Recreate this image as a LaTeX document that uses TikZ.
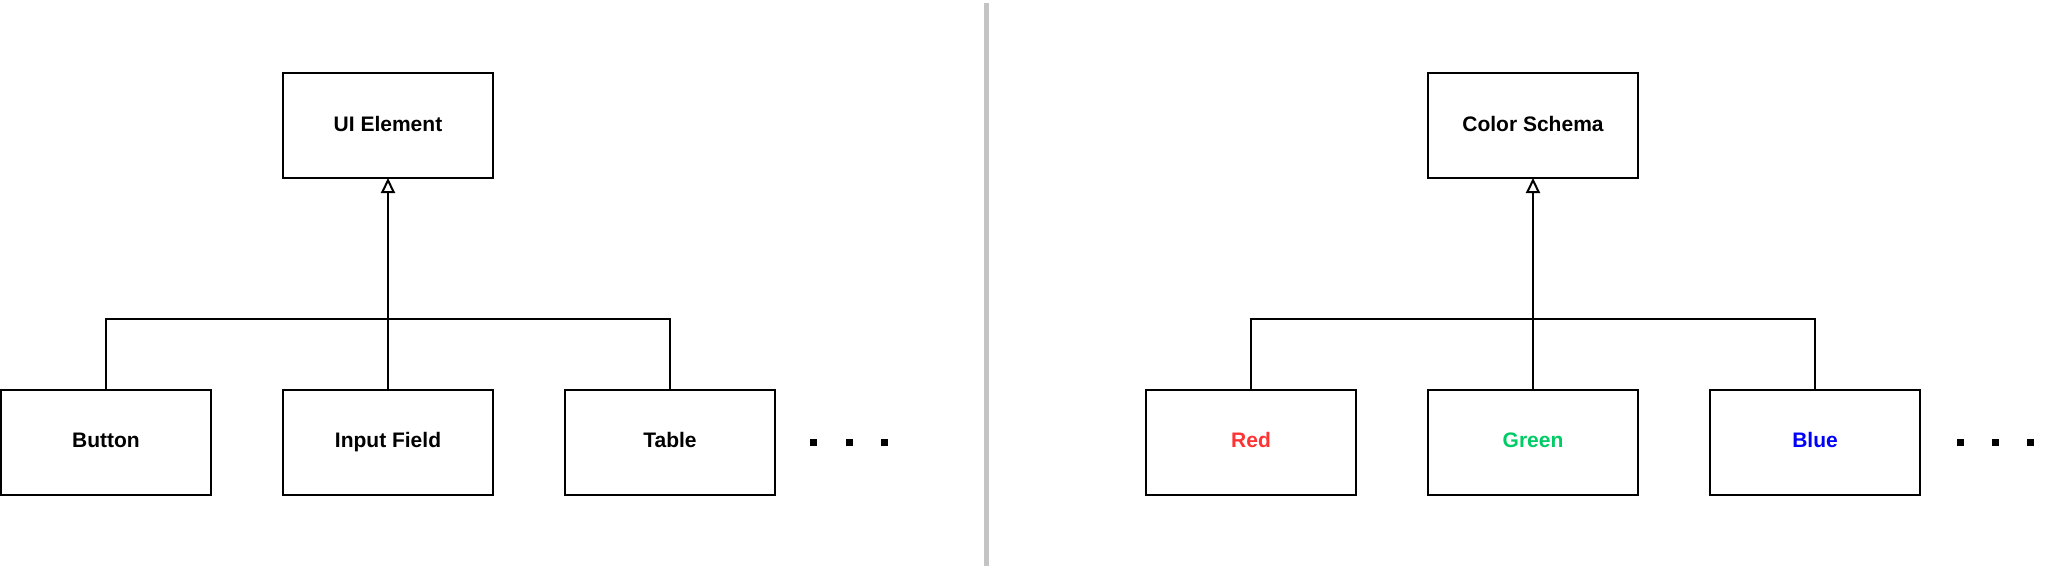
\documentclass[tikz,border=0pt]{standalone}
\usepackage{fontspec}
\setmainfont{Liberation Sans}
\usetikzlibrary{arrows.meta}
\definecolor{cred}{HTML}{FF3333}
\definecolor{cgreen}{HTML}{00CC66}
\definecolor{cblue}{HTML}{0000FF}
\definecolor{divgray}{HTML}{C4C4C4}
\begin{document}
\begin{tikzpicture}[x=1pt,y=-1pt,
  box/.style={draw=black,line width=2pt,minimum width=210pt,minimum height=105pt,inner sep=0pt,outer sep=0pt,text height=15pt,text depth=4pt,font=\fontsize{21}{25}\selectfont\bfseries},
  conn/.style={draw=black,line width=2pt},
  inherit/.style={conn,-{Triangle[open,length=15pt,width=14pt,line width=2pt]}},
  dotsq/.style={fill=black,minimum size=7pt,inner sep=0pt,draw=none}]
\useasboundingbox (0,0) rectangle (2048,570);
\fill[white] (0,0) rectangle (2048,570);
% left
\node[box] (ui) at (388,125.5) {UI Element};
\node[box] (btn) at (106,442) {Button};
\node[box] (inp) at (388,442) {Input Field};
\node[box] (tbl) at (670,442) {Table};
\coordinate (hubL) at (388,319);
\draw[conn] (btn.north) |- (hubL) -| (tbl.north);
\draw[inherit] (inp.north) -- (ui.south);
\node[dotsq] (d1) at (813,442) {};
\node[dotsq] (d2) at (849,442) {};
\node[dotsq] (d3) at (884,442) {};
% divider
\coordinate (divT) at (986,3);
\coordinate (divB) at (986,566);
\draw[divgray,line width=5pt] (divT) -- (divB);
% right
\node[box] (cs) at (1533,125.5) {Color Schema};
\node[box,text=cred] (red) at (1251,442) {Red};
\node[box,text=cgreen] (green) at (1533,442) {Green};
\node[box,text=cblue] (blue) at (1815,442) {Blue};
\coordinate (hubR) at (1533,319);
\draw[conn] (red.north) |- (hubR) -| (blue.north);
\draw[inherit] (green.north) -- (cs.south);
\node[dotsq] (e1) at (1960,442) {};
\node[dotsq] (e2) at (1995,442) {};
\node[dotsq] (e3) at (2030,442) {};
\end{tikzpicture}
\end{document}
